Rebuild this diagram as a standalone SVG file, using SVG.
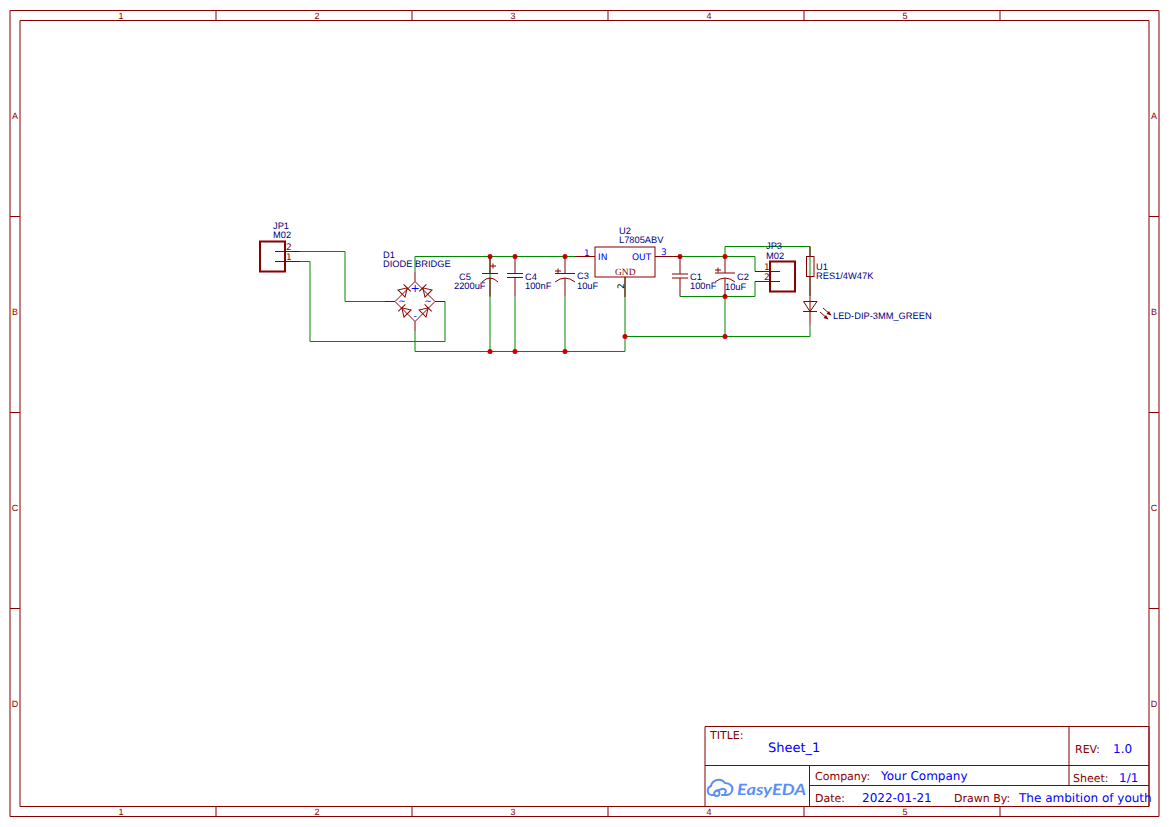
<svg xmlns="http://www.w3.org/2000/svg" width="1169" height="827" viewBox="0 0 1169 827">
<style>
.f{fill:none;stroke:#880000;stroke-width:1}
.p{fill:none;stroke:#880000;stroke-width:1}
.b{fill:none;stroke:#880000;stroke-width:2}
.w{fill:none;stroke:#008800;stroke-width:1}
.d{fill:#cc0000;stroke:none}
text{font-family:"Liberation Sans",Arial,sans-serif;text-rendering:geometricPrecision}
.n{font-size:9.3px;fill:#000080}
.t{font-family:"DejaVu Sans",Verdana,sans-serif;font-size:9px;fill:#880000}
.l{font-family:"DejaVu Sans",Verdana,sans-serif;font-size:11px;fill:#880000}
.v{font-family:"DejaVu Sans",Verdana,sans-serif;font-size:12px;fill:#0000ff}
.m{font-family:"DejaVu Sans",Verdana,sans-serif;font-size:9px;fill:#0000ff}
.r{font-family:"DejaVu Sans",Verdana,sans-serif;font-size:9px;fill:#880000}
</style>
<defs>
<g id="dio"><path class="p" d="M0,-5V5L8,0ZM8,-5V5"/></g>
</defs>
<g id="frame">
<path class="f" d="M10,10.5H1159V816.5H10ZM20,20.5H1149V806.5H20Z"/>
<path class="f" d="M216,10.5V20.5M412,10.5V20.5M608,10.5V20.5M804,10.5V20.5M1000,10.5V20.5M216,806.5V816.5M412,806.5V816.5M608,806.5V816.5M804,806.5V816.5M1000,806.5V816.5"/>
<path class="f" d="M10,216.5H20M10,412.5H20M10,608.5H20M1149,216.5H1159M1149,412.5H1159M1149,608.5H1159"/>
<g class="t" text-anchor="middle">
<text x="121" y="19">1</text><text x="317" y="19">2</text><text x="513" y="19">3</text><text x="709" y="19">4</text><text x="905" y="19">5</text>
<text x="121" y="815">1</text><text x="317" y="815">2</text><text x="513" y="815">3</text><text x="709" y="815">4</text><text x="905" y="815">5</text>
<text x="15" y="119">A</text><text x="15" y="315">B</text><text x="15" y="511">C</text><text x="15" y="707">D</text>
<text x="1154" y="119">A</text><text x="1154" y="315">B</text><text x="1154" y="511">C</text><text x="1154" y="707">D</text>
</g>
</g>
<g id="title-block">
<path class="f" d="M705,726.5H1149V806.5H705ZM705,765.5H1149M809,785.5H1149M1069,726.5V785.5M809.5,765.5V806.5"/>
<text class="l" x="710" y="739">TITLE:</text>
<text class="v" x="768" y="752" style="font-size:13px">Sheet_1</text>
<text class="l" x="1075" y="753">REV:</text>
<text class="v" x="1113" y="753">1.0</text>
<text class="l" x="815" y="780">Company:</text>
<text class="v" x="881" y="780">Your Company</text>
<text class="l" x="1073" y="782">Sheet:</text>
<text class="v" x="1119" y="782">1/1</text>
<text class="l" x="815" y="802">Date:</text>
<text class="v" x="862" y="802">2022-01-21</text>
<text class="l" x="954" y="802">Drawn By:</text>
<text class="v" x="1019" y="802">The ambition of youth</text>
<g id="logo">
<path d="M714,795H712C707,795 706,788 711,786C712,780 721,777 725,783C730,783 734,787 732,791C731,794 729,795 726,795H722M716,791C719,788 722,797 716,796C713,795 714,792 716,791L722,789C725,788 727,791 725,793" fill="none" stroke="#5b8ff5" stroke-width="2" stroke-linecap="round"/>
<text x="737" y="795" textLength="69" lengthAdjust="spacingAndGlyphs" style="font-family:Lato,sans-serif;font-size:15.5px;font-weight:700;font-style:italic;fill:#5b8ff5">EasyEDA</text>
</g>
</g>
<g id="connectors">
<path class="w" d="M300,251.5H345V301.5H385"/>
<path class="w" d="M300,261.5H310V341.5H445V301.5H435"/>
<path class="w" d="M415,271.5V256.5H575"/>
<path class="w" d="M415,331.5V351.5H625V277"/>
<path class="w" d="M490,256.5V351.5M515,296.5V351.5M565,296.5V351.5"/>
<path class="w" d="M625,336.5H810V325"/>
<path class="w" d="M680,256.5H755V271.5M755,281.5V296.5H680M725,296.5V336.5"/>
<path class="w" d="M725,256.5V246.5H810V296"/>
<g class="d">
<circle cx="490" cy="256.5" r="2.5"/><circle cx="515" cy="256.5" r="2.5"/><circle cx="565" cy="256.5" r="2.5"/>
<circle cx="490" cy="351.5" r="2.5"/><circle cx="515" cy="351.5" r="2.5"/><circle cx="565" cy="351.5" r="2.5"/>
<circle cx="625" cy="336.5" r="2.5"/><circle cx="680" cy="256.5" r="2.5"/><circle cx="725" cy="256.5" r="2.5"/>
<circle cx="725" cy="296.5" r="2.5"/><circle cx="725" cy="336.5" r="2.5"/>
</g>
</g>
<g id="JP1">
<rect class="b" x="260" y="241.5" width="25" height="30"/>
<path class="p" d="M275,251.5H300M275,261.5H300"/>
<text class="r" x="286" y="250">2</text><text class="r" x="286" y="260">1</text>
<text class="n" x="273" y="229">JP1</text><text class="n" x="273" y="238">M02</text>
</g>
<g id="D1">
<path class="p" d="M385,301.5H395L415,281.5L435,301.5H445M415,281.5V271.5M395,301.5L415,321.5L435,301.5M415,321.5V331.5" />
<use href="#dio" transform="translate(401.5,293.5) rotate(-45)"/>
<use href="#dio" transform="translate(428.5,293.5) rotate(225)"/>
<use href="#dio" transform="translate(407.5,313.5) rotate(225)"/>
<use href="#dio" transform="translate(422.5,313.5) rotate(-45)"/>
<text class="m" x="415" y="292" text-anchor="middle" style="font-size:11px">+</text>
<text class="m" x="402" y="304" text-anchor="middle">~</text>
<text class="m" x="428" y="304" text-anchor="middle">~</text>
<text class="m" x="415" y="319" text-anchor="middle">-</text>
<text class="n" x="383" y="258">D1</text><text class="n" x="383" y="267">DIODE BRIDGE</text>
</g>
<g id="C5">
<path class="p" d="M490,256.5V273.5M490,278V296.5M482,273.5H498M482,282Q490,274 498,282M490,266H496M493,263.5V268.5"/>
<text class="n" x="459" y="280">C5</text><text class="n" x="454" y="289">2200uF</text>
</g>
<g id="C4">
<path class="p" d="M515,256.5V273.5M515,277.5V296.5M507,273.5H523M507,277.5H523"/>
<text class="n" x="525" y="280">C4</text><text class="n" x="525" y="289">100nF</text>
</g>
<g id="C3">
<path class="p" d="M565,256.5V273.5M565,278V296.5M555,273.5H575M555,282Q565,274 575,282M555,271H561M558,268.5V273.5"/>
<text class="n" x="577" y="279">C3</text><text class="n" x="577" y="289">10uF</text>
</g>
<g id="U2">
<rect class="p" x="595" y="247" width="60" height="30"/>
<path class="p" d="M575,256.5H595M655,256.5H680M625,277V297"/>
<text class="n" x="619" y="234">U2</text><text class="n" x="619" y="243">L7805ABV</text>
<text class="m" x="584" y="256">1</text><text class="m" x="661" y="255">3</text>
<text class="m" x="598" y="260">IN</text><text class="m" x="632" y="260">OUT</text>
<text x="615" y="275" style="font-family:'Liberation Serif',serif;font-size:9.5px;fill:#880000">GND</text>
<text x="624" y="289" transform="rotate(-90 624 289)" style="font-family:'DejaVu Sans',sans-serif;font-size:9px;fill:#000000">2</text>
</g>
<g id="C1">
<path class="p" d="M680,256.5V274M680,278V296.5M672,274H688M672,278H688"/>
<text class="n" x="690" y="280">C1</text><text class="n" x="690" y="289">100nF</text>
</g>
<g id="C2">
<path class="p" d="M725,256.5V273M725,278V296.5M715,273H735M715,282Q725,274 735,282M715,270H721M718,267.5V272.5"/>
<text class="n" x="737" y="280">C2</text><text class="n" x="725" y="290">10uF</text>
</g>
<g id="JP3">
<rect class="b" x="770" y="261.5" width="25" height="30"/>
<path class="p" d="M755,271.5H780M755,281.5H780"/>
<text class="r" x="764" y="270">1</text><text class="r" x="764" y="280">2</text>
<text class="n" x="766" y="249">JP3</text><text class="n" x="766" y="258.5">M02</text>
</g>
<g id="U1">
<rect class="p" x="806.5" y="256.5" width="7.5" height="20"/>
<path class="p" d="M810,246.5V256.5M810,276.5V296.5"/>
<text class="n" x="816" y="270">U1</text><text class="n" x="816" y="279">RES1/4W47K</text>
</g>
<g id="LED">
<path class="p" d="M810,296.5V325M803.5,301.5H817L810,311.5ZM803,311.5H817"/>
<path class="p" d="M823,308L831,315M820,312L828,319"/>
<path d="M831.5,315.5L826.5,314L829,311ZM828.5,319.5L823.5,318L826,315Z" fill="#880000"/>
<text class="n" x="833" y="319">LED-DIP-3MM_GREEN</text>
</g>
</svg>
